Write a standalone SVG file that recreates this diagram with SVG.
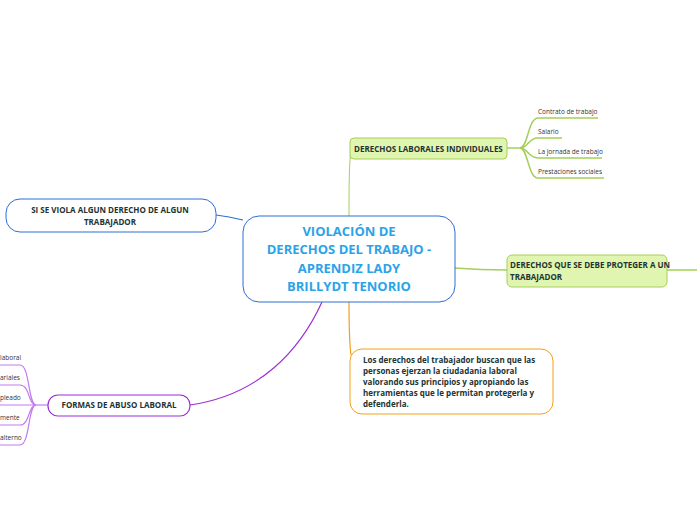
<svg xmlns="http://www.w3.org/2000/svg" width="697" height="520" viewBox="0 0 697 520">
<style>
text{font-family:"Open Sans","Noto Sans",sans-serif}
.g{fill:none;stroke:#a5cf5a;stroke-width:1.5}
.p{fill:none;stroke:#c27bf2;stroke-width:1.2}
.leaf{font-size:6.5px;fill:#333}
.lb{font-size:8px;font-weight:bold;fill:#233}
</style>
<rect width="697" height="520" fill="#fff"/>
<g id="connectors">
<path d="M349,216 C349,190 349,165 351,148" fill="none" stroke="#a5cf5a" stroke-width="1"/>
<path d="M455,268 C480,270 495,270 507,270" class="g"/>
<path d="M349,302 C349,325 349,340 351,355" fill="none" stroke="#f0a020" stroke-width="1.2"/>
<path d="M243,220 C235,218 225,216 216,215" fill="none" stroke="#2d6ed6" stroke-width="1.2"/>
<path d="M322,302 C300,350 260,395 190,405" fill="none" stroke="#9a2fd6" stroke-width="1.2"/>
<path d="M667,270 L697,270" class="g"/>
<path d="M507,148 L520,148" class="g"/>
<path d="M520,148 C528,148 528,118 538,118 L598,118" class="g"/>
<path d="M520,148 C528,148 528,138 538,138 L562,138" class="g"/>
<path d="M520,148 C528,148 528,158 538,158 L602,158" class="g"/>
<path d="M520,148 C528,148 528,178 538,178 L604,178" class="g"/>
<path d="M48,405 L36,405" class="p"/>
<path d="M36,405 C28,405 30,365 20,365 L0,365" class="p"/>
<path d="M36,405 C28,405 30,385 20,385 L0,385" class="p"/>
<path d="M36,405 L0,405" class="p"/>
<path d="M36,405 C28,405 30,425 20,425 L0,425" class="p"/>
<path d="M36,405 C28,405 30,445 20,445 L0,445" class="p"/>
</g>
<g id="center">
<rect x="243" y="216" width="212" height="86" rx="16" fill="#fff" stroke="#2d6ed6" stroke-width="1"/>
<text font-size="13" font-weight="bold" fill="#2ba3e8" text-anchor="middle"><tspan x="349" y="236">VIOLACIÓN DE</tspan><tspan x="349" y="254">DERECHOS DEL TRABAJO -</tspan><tspan x="349" y="273">APRENDIZ LADY</tspan><tspan x="349" y="291">BRILLYDT TENORIO</tspan></text>
</g>
<g id="n-individuales">
<rect x="350" y="138" width="157" height="21" rx="4" fill="#e0f5b0" stroke="#a5cf5a" stroke-width="1"/>
<text x="354" y="152" class="lb" font-size="7.5">DERECHOS LABORALES INDIVIDUALES</text>
</g>
<g id="leaves-right">
<text x="538" y="114" class="leaf">Contrato de trabajo</text>
<text x="538" y="134" class="leaf">Salario</text>
<text x="538" y="154" class="leaf">La jornada de trabajo</text>
<text x="538" y="174" class="leaf">Prestaciones  sociales</text>
</g>
<g id="n-proteger">
<rect x="507" y="255" width="160" height="32" rx="5" fill="#e0f5b0" stroke="#a5cf5a" stroke-width="1"/>
<text class="lb"><tspan x="510" y="268">DERECHOS QUE SE DEBE PROTEGER A UN</tspan><tspan x="510" y="280">TRABAJADOR</tspan></text>
</g>
<g id="n-viola">
<rect x="6" y="199" width="210" height="33" rx="14" fill="#fff" stroke="#2d6ed6" stroke-width="1"/>
<text class="lb" text-anchor="middle" font-size="7.5"><tspan x="110" y="213">SI SE VIOLA ALGUN DERECHO DE ALGUN</tspan><tspan x="110" y="225">TRABAJADOR</tspan></text>
</g>
<g id="n-texto">
<rect x="350" y="349" width="203" height="65" rx="12" fill="#fff" stroke="#f0a020" stroke-width="1"/>
<text class="lb" font-size="7.5"><tspan x="363" y="363">Los derechos del trabajador buscan que las</tspan><tspan x="363" y="374">personas ejerzan la ciudadania laboral</tspan><tspan x="363" y="385">valorando sus principios y apropiando las</tspan><tspan x="363" y="396">herramientas que le permitan protegerla y</tspan><tspan x="363" y="407">defenderla.</tspan></text>
</g>
<g id="n-abuso">
<rect x="48" y="395" width="142" height="21" rx="10" fill="#fff" stroke="#9a2fd6" stroke-width="1.2"/>
<text x="119" y="408" class="lb" text-anchor="middle" font-size="7.5">FORMAS DE ABUSO LABORAL</text>
</g>
<g id="leaves-left">
<text x="0" y="360" class="leaf">laboral</text>
<text x="0" y="380" class="leaf">ariales</text>
<text x="0" y="400" class="leaf">pleado</text>
<text x="0" y="420" class="leaf">mente</text>
<text x="0" y="440" class="leaf">alterno</text>
</g>
</svg>
